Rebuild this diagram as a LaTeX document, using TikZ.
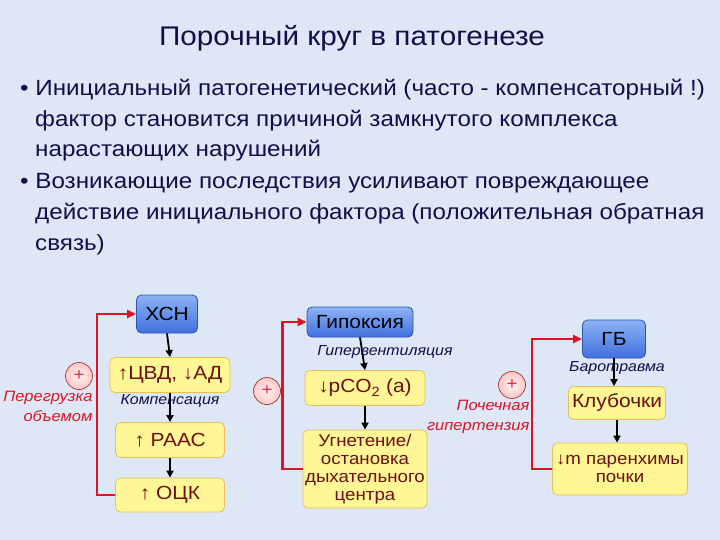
\documentclass[tikz,border=0pt]{standalone}
\usepackage{fontspec}
\setmainfont{Liberation Sans}[FakeStretch=1.1]
\usetikzlibrary{arrows.meta,shadings}
\definecolor{bgc}{RGB}{221,231,246}
\definecolor{navy}{RGB}{16,16,72}
\definecolor{boxtxt}{RGB}{110,16,16}
\definecolor{yfill}{RGB}{255,246,150}
\definecolor{ydraw}{RGB}{232,190,90}
\definecolor{bdraw}{RGB}{45,85,175}
\definecolor{btop}{RGB}{140,178,245}
\definecolor{bbot}{RGB}{65,112,222}
\definecolor{fbred}{RGB}{220,20,40}
\tikzset{
  ybox/.style={draw=ydraw, line width=0.8pt, rounded corners=5pt, fill=yfill, text=boxtxt, font=\fontsize{19}{20}\selectfont, inner sep=0pt, align=center},
  bbox/.style={draw=bdraw, line width=0.8pt, rounded corners=5pt, top color=btop, bottom color=bbot, text=black, font=\fontsize{19}{20}\selectfont, inner sep=0pt},
  flow/.style={-{Triangle[length=7pt,width=7pt]}, line width=1.8pt, black},
  fb/.style={-{Triangle[length=9pt,width=8pt]}, line width=2.4pt, fbred},
  plus/.style={circle, draw=red!55!black, line width=0.5pt, inner color=red!6, outer color=red!22, minimum size=27pt, inner sep=0pt, text=fbred!90, font=\fontsize{17}{17}\selectfont},
  lab/.style={font=\itshape\fontsize{14.5}{15}\selectfont, text=navy},
  rlab/.style={font=\itshape\fontsize{15}{20}\selectfont, text=fbred, align=right},
  btxt/.style={font=\fontsize{22}{24}\selectfont, text=navy, anchor=base west, inner sep=0pt}
}
\begin{document}
\begin{tikzpicture}[x=1pt,y=-1pt]
\fill[bgc] (0,0) rectangle (720,540);
\useasboundingbox (0,0) rectangle (720,540);
\node[font=\fontsize{27}{28}\selectfont, text=navy, anchor=base] (title) at (352,46) {Порочный круг в патогенезе};
\node[btxt] (b1) at (20,96) {• Инициальный патогенетический (часто - компенсаторный !)};
\node[btxt] (l2) at (35,127) {фактор становится причиной замкнутого комплекса};
\node[btxt] (l3) at (35,157) {нарастающих нарушений};
\node[btxt] (b2) at (20,189) {• Возникающие последствия усиливают повреждающее};
\node[btxt] (l5) at (35,219) {действие инициального фактора (положительная обратная};
\node[btxt] (l6) at (35,250) {связь)};

% left column
\node[bbox, minimum width=61pt, minimum height=38pt] (xsn) at (167,314) {ХСН};
\node[ybox, minimum width=120pt, minimum height=35pt] (cvd) at (170,375) {↑ЦВД, ↓АД};
\node[ybox, minimum width=109pt, minimum height=35pt] (raas) at (170,440) {↑ РААС};
\node[ybox, minimum width=109pt, minimum height=34pt] (ock) at (170,495) {↑ ОЦК};
\draw[flow] (xsn.south) -- (cvd.north);
\draw[flow] (cvd.south) -- (raas.north);
\draw[flow] (raas.south) -- (ock.north);
\node[lab] (komp) at (170,401) {Компенсация};
\draw[fb] (ock.west) -- ++(-18,0) |- (xsn.west);
\node[plus] (p1) at (79,376) {+};
\node[rlab, anchor=north east] (perg) at (96,388) {Перегрузка\\объемом};

% middle column
\node[bbox, minimum width=106pt, minimum height=30pt] (hyp) at (360,322) {Гипоксия};
\node[ybox, minimum width=120pt, minimum height=35pt] (pco) at (365,388) {↓pCO\textsubscript{2} (a)};
\node[ybox, minimum width=124pt, minimum height=78pt, font=\fontsize{17}{18}\selectfont] (ugn) at (365,469) {Угнетение/\\остановка\\дыхательного\\центра};
\draw[flow] (hyp.south) -- (pco.north);
\draw[flow] (pco.south) -- (ugn.north);
\node[lab] (hv) at (385,352) {Гипервентиляция};
\draw[fb] (ugn.west) -- ++(-20,0) |- (hyp.west);
\node[plus] (p2) at (267,391) {+};

% right column
\node[bbox, minimum width=63pt, minimum height=38pt] (gb) at (614,339) {ГБ};
\node[ybox, minimum width=97pt, minimum height=33pt] (klub) at (617,403) {Клубочки};
\node[ybox, minimum width=135pt, minimum height=52pt, font=\fontsize{17}{18}\selectfont] (par) at (620,469) {↓m паренхимы\\почки};
\draw[flow] (gb.south) -- (gb.south|-klub.north);
\draw[flow] (klub.south) -- (klub.south|-par.north);
\node[lab] (baro) at (617,368) {Баротравма};
\draw[fb] (par.west) -- ++(-20,0) |- (gb.west);
\node[plus] (p3) at (512,385) {+};
\node[rlab, anchor=north east] (poch) at (533,397) {Почечная\\гипертензия};
\end{tikzpicture}
\end{document}
